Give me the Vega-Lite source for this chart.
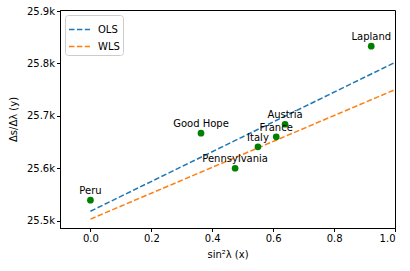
{
  "$schema": "https://vega.github.io/schema/vega-lite/v6.json",
  "width": 335,
  "height": 218,
  "autosize": {"type": "none"},
  "padding": {"left": 60, "top": 10, "right": 15, "bottom": 43},
  "background": "white",
  "config": {
    "font": "DejaVu Sans",
    "view": {"stroke": "black", "strokeWidth": 1},
    "axis": {
      "grid": false,
      "domainColor": "black",
      "tickColor": "black",
      "tickSize": 3.5,
      "labelFontSize": 10,
      "labelColor": "black",
      "titleFontSize": 10,
      "titleFontWeight": "normal",
      "titleColor": "black",
      "labelFont": "DejaVu Sans",
      "titleFont": "DejaVu Sans"
    },
    "legend": {
      "labelFont": "DejaVu Sans",
      "labelFontSize": 10,
      "labelColor": "black"
    }
  },
  "datasets": {
    "points": [
      {"place": "Peru", "x": 0.0, "y": 25539},
      {"place": "Good Hope", "x": 0.363, "y": 25667},
      {"place": "Pennsylvania", "x": 0.475, "y": 25600},
      {"place": "Italy", "x": 0.550, "y": 25641},
      {"place": "France", "x": 0.610, "y": 25660},
      {"place": "Austria", "x": 0.639, "y": 25684},
      {"place": "Lapland", "x": 0.922, "y": 25833}
    ],
    "fits": [
      {"method": "OLS", "x": 0.0, "y": 25518},
      {"method": "OLS", "x": 1.0, "y": 25802},
      {"method": "WLS", "x": 0.0, "y": 25503},
      {"method": "WLS", "x": 1.0, "y": 25750}
    ]
  },
  "layer": [
    {
      "data": {"name": "fits"},
      "mark": {"type": "line", "strokeDash": [5.5, 2.4], "strokeWidth": 1.5, "clip": true},
      "encoding": {
        "x": {
          "field": "x", "type": "quantitative",
          "scale": {"domain": [-0.1, 1.0], "nice": false, "zero": false},
          "axis": {"values": [0, 0.2, 0.4, 0.6, 0.8, 1.0], "format": ".1f", "title": "sin²λ (x)", "titlePadding": 6}
        },
        "y": {
          "field": "y", "type": "quantitative",
          "scale": {"domain": [25486, 25902], "nice": false, "zero": false},
          "axis": {"values": [25500, 25600, 25700, 25800, 25900], "format": ".3s", "title": "Δs/Δλ (y)", "titlePadding": 8}
        },
        "color": {
          "field": "method", "type": "nominal",
          "scale": {"domain": ["OLS", "WLS"], "range": ["#1f77b4", "#ff7f0e"]},
          "legend": {
            "title": null,
            "orient": "top-left",
            "offset": 5,
            "symbolType": "stroke",
            "symbolDash": [5.5, 2.4],
            "symbolStrokeWidth": 1.5,
            "symbolSize": 440,
            "symbolOffset": 0,
            "labelOffset": 7,
            "strokeColor": "#cccccc",
            "fillColor": "white",
            "cornerRadius": 3,
            "padding": 3,
            "rowPadding": -8
          }
        }
      }
    },
    {
      "data": {"name": "points"},
      "mark": {"type": "circle", "color": "green", "opacity": 1, "size": 45},
      "encoding": {
        "x": {"field": "x", "type": "quantitative"},
        "y": {"field": "y", "type": "quantitative"}
      }
    },
    {
      "data": {"name": "points"},
      "mark": {"type": "text", "baseline": "bottom", "align": "center", "dy": -4, "fontSize": 10, "color": "black"},
      "encoding": {
        "x": {"field": "x", "type": "quantitative"},
        "y": {"field": "y", "type": "quantitative"},
        "text": {"field": "place"}
      }
    }
  ]
}
